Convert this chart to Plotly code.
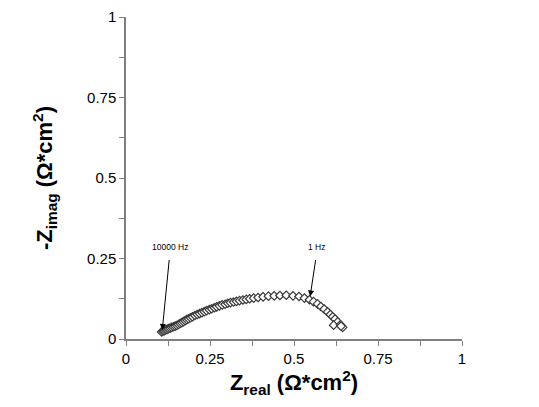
import plotly.graph_objects as go

# Nyquist data (Ohm*cm2)
z_real = [0.106, 0.110, 0.114, 0.118, 0.122, 0.126, 0.131, 0.136, 0.141, 0.146,
          0.151, 0.156, 0.161, 0.166, 0.171, 0.176, 0.181, 0.186, 0.192, 0.198,
          0.205, 0.212, 0.219, 0.226, 0.233, 0.240, 0.248, 0.255, 0.263, 0.270,
          0.278, 0.286, 0.295, 0.303, 0.311, 0.320, 0.329, 0.338, 0.348, 0.358,
          0.368, 0.380, 0.393, 0.408, 0.424, 0.441, 0.458, 0.477, 0.497, 0.515,
          0.531, 0.546, 0.558, 0.570, 0.580, 0.590, 0.600, 0.608, 0.615, 0.622,
          0.630, 0.618, 0.638, 0.645, 0.640]
z_imag = [0.022, 0.024, 0.026, 0.028, 0.030, 0.032, 0.034, 0.036, 0.038, 0.040,
          0.042, 0.045, 0.048, 0.051, 0.054, 0.057, 0.060, 0.063, 0.066, 0.069,
          0.073, 0.076, 0.079, 0.082, 0.085, 0.088, 0.091, 0.094, 0.097, 0.100,
          0.103, 0.106, 0.108, 0.111, 0.113, 0.115, 0.117, 0.119, 0.121, 0.123,
          0.125, 0.127, 0.129, 0.131, 0.133, 0.134, 0.135, 0.136, 0.134, 0.132,
          0.127, 0.122, 0.116, 0.109, 0.101, 0.093, 0.084, 0.076, 0.069, 0.062,
          0.053, 0.043, 0.044, 0.036, 0.040]

tick_vals = [0, 0.25, 0.5, 0.75, 1]
tick_text = ["0", "0.25", "0.5", "0.75", "1"]

# frequency markers: label, arrow tip (data), label position (data)
freq_labels = ["10000 Hz", "1 Hz"]
tip_x = [0.108, 0.548]
tip_y = [0.028, 0.132]
lab_x = [0.131, 0.567]
lab_y = [0.285, 0.285]

AXIS_GREY = "#7f7f7f"
FONT = "Liberation Sans, Arial, sans-serif"

fig = go.Figure()
fig.add_trace(go.Scatter(
    x=z_real, y=z_imag, mode="lines+markers",
    line=dict(color="#404040", width=1),
    marker=dict(symbol="diamond", size=6.5, color="white",
                line=dict(color="#383838", width=1.2)),
    showlegend=False,
))

for txt, tx, ty, lx, ly in zip(freq_labels, tip_x, tip_y, lab_x, lab_y):
    # arrow
    fig.add_annotation(x=tx, y=ty, ax=lx - 0.002, ay=ly - 0.035,
                       xref="x", yref="y", axref="x", ayref="y",
                       text="", showarrow=True, arrowhead=2, arrowsize=1.2,
                       arrowwidth=1, arrowcolor="black")
    # label
    fig.add_annotation(x=lx, y=ly, xref="x", yref="y", text=txt,
                       showarrow=False, font=dict(size=8.5, color="black", family=FONT))

axis_common = dict(
    range=[0, 1], tickvals=tick_vals, ticktext=tick_text,
    showgrid=False, zeroline=False, showline=True, automargin=False,
    linecolor=AXIS_GREY, linewidth=1.5,
    ticks="outside", ticklen=5, tickcolor=AXIS_GREY, tickwidth=1,
    minor=dict(dtick=0.125, ticks="outside", ticklen=5,
               tickcolor=AXIS_GREY, tickwidth=1, showgrid=False),
    tickfont=dict(size=15, color="black", family=FONT),
)

fig.update_xaxes(**axis_common,
                 title=dict(text="<b>Z<sub>real</sub> (Ω*cm<sup>2</sup>)</b>",
                            font=dict(size=22, color="black", family=FONT),
                            standoff=4))
fig.update_yaxes(**axis_common,
                 title=dict(text="<b>-Z<sub>imag</sub> (Ω*cm<sup>2</sup>)</b>",
                            font=dict(size=22, color="black", family=FONT),
                            standoff=28))

# page body adds an 8px offset, so the figure is sized to fit inside it
fig.update_layout(
    width=523, height=391,
    margin=dict(l=118, r=69, t=9, b=60),
    plot_bgcolor="white", paper_bgcolor="white",
)

fig.write_html("out.html")
